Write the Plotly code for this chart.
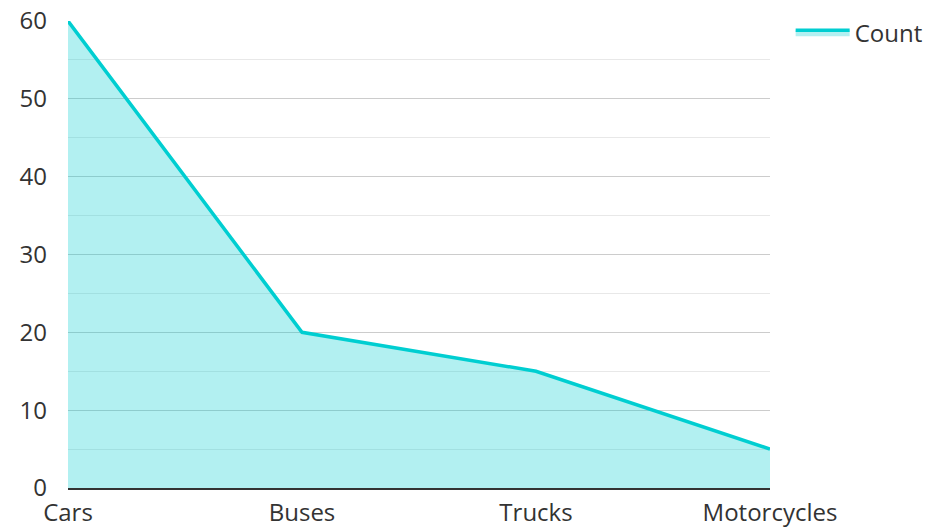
import plotly.graph_objects as go

categories = ["Cars", "Buses", "Trucks", "Motorcycles"]
counts = [60, 20, 15, 5]

fig = go.Figure()
fig.add_trace(go.Scatter(
    x=categories, y=counts, name="Count", mode="lines",
    line=dict(color="#00CED1", width=3.5),
    fill="tozeroy", fillcolor="rgba(0,206,209,0.3)",
))
fig.update_layout(
    width=928, height=531,
    margin=dict(l=68, r=158, t=21, b=43),
    paper_bgcolor="white", plot_bgcolor="white",
    font=dict(family="Open Sans", size=24, color="#333333"),
    showlegend=True,
    legend=dict(xref="container", yref="container", x=0.852, y=0.981,
                xanchor="left", yanchor="top",
                font=dict(size=24, color="#333333"), itemwidth=54),
    xaxis=dict(range=[0, 3], showgrid=False, showline=True, linecolor="#333333",
               linewidth=2, ticks="", ticklabelstandoff=2, zeroline=False,
               automargin=False),
    yaxis=dict(range=[0, 60], dtick=10, showgrid=True, gridcolor="#cccccc", gridwidth=1,
               minor=dict(dtick=5, showgrid=True, gridcolor="#e8e8e8", gridwidth=1),
               zeroline=False, showline=False, ticks="", ticklabelstandoff=20,
               automargin=False),
)
fig.write_html("out.html", config={"displayModeBar": False},
               post_script="document.body.style.margin='0';document.body.style.overflow='hidden';")
